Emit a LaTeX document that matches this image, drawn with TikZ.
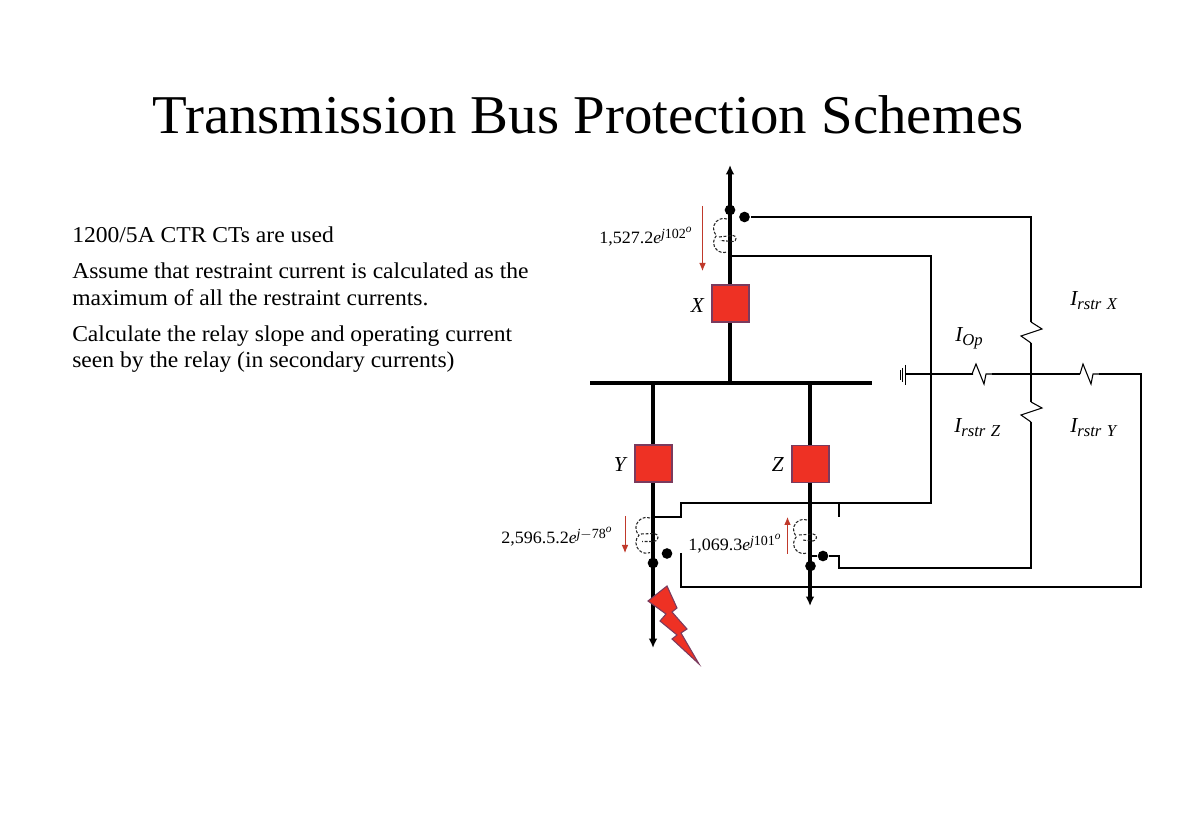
\documentclass[tikz,border=0pt]{standalone}
\usepackage{mathspec}
\setmainfont[FakeStretch=1.04]{Liberation Serif}
\setmathfont(Digits,Latin){Liberation Serif}
\DeclareMathSizes{16}{16}{12.5}{10}
\DeclareMathSizes{13}{13}{10.5}{8.5}
\usetikzlibrary{calc}
\usetikzlibrary{arrows.meta}

\definecolor{brkred}{HTML}{EE3124}
\definecolor{brkedge}{HTML}{7A3B5E}
\definecolor{ctred}{HTML}{C0392B}

\tikzset{
  wire/.style={draw=black,line width=0.8pt},
  feeder/.style={draw=black,line width=2.3pt},
  feedend/.style={feeder,-{Latex[length=7pt,width=6.5pt]}},
  brk/.style={draw=brkedge,line width=1.1pt,fill=brkred,minimum size=28pt,inner sep=0pt},
  blackdot/.style={circle,fill=black,minimum size=8pt,inner sep=0pt},
  coil/.style={draw=black!85,line width=0.8pt,dash pattern=on 2.2pt off 1.2pt},
  ctarrow/.style={draw=ctred,line width=0.7pt,-{Latex[length=6pt,width=5pt]}},
  lbl/.style={inner sep=0pt,font=\fontsize{13}{15}\selectfont},
  body/.style={anchor=base west,inner sep=0pt,font=\fontsize{17}{20}\selectfont},
  brkname/.style={inner sep=0pt,anchor=east,font=\fontsize{16}{18}\selectfont},
  relname/.style={inner sep=0pt,anchor=base west,font=\fontsize{16}{18}\selectfont},
}

\begin{document}
\begin{tikzpicture}[x=0.75pt,y=-0.75pt]
\useasboundingbox (0,0) rectangle (1179,816);

\node[anchor=base,inner sep=0pt,font=\fontsize{41}{46}\selectfont] (title) at (588,134) {Transmission Bus Protection Schemes};

\node[body] (ln1) at (72,243) {1200/5A CTR CTs are used};
\node[body] (ln2) at (72,279) {Assume that restraint current is calculated as the};
\node[body] (ln3) at (72,306) {maximum of all the restraint currents.};
\node[body] (ln4) at (72,342) {Calculate the relay slope and operating current};
\node[body] (ln5) at (72,368) {seen by the relay (in secondary currents)};

% bus and feeders
\coordinate (busl) at (590,383);
\coordinate (busr) at (872,383);
\coordinate (busx) at (730,383);
\coordinate (busy) at (653,383);
\coordinate (busz) at (810,383);
\coordinate (endx) at (730,165);
\coordinate (endy) at (653,648);
\coordinate (endz) at (810,606);
\draw[feeder] (busl)--(busr);
\draw[feedend] (busx)--(endx);
\draw[feedend] (busy)--(endy);
\draw[feedend] (busz)--(endz);

\node[brk] (brkx) at (730.5,303.5) {};
\node[brk] (brky) at (653.5,463.5) {};
\node[brk] (brkz) at (810.5,464) {};
\node[brkname] (namex) at ($(brkx.west)+(-7,2)$) {$X$};
\node[brkname] (namey) at ($(brky.west)+(-8,1)$) {$Y$};
\node[brkname] (namez) at ($(brkz.west)+(-7,1)$) {$Z$};

% polarity dots
\node[blackdot] (dotx) at (730,210) {};
\node[blackdot] (polx) at (744.5,217) {};
\node[blackdot] (doty) at (653,563) {};
\node[blackdot] (poly) at (667,553.5) {};
\node[blackdot] (dotz) at (810.5,566) {};
\node[blackdot] (polz) at (823,556) {};

% CT coils
\draw[coil] (727,219) arc (-70:-225:10) arc (-135:-290:10);
\draw[coil] (719,237)--(733,235.5) arc (-90:90:3)--(720,240.5);
\draw[coil] (650,518) arc (-70:-225:10.5) arc (-135:-290:10.5);
\draw[coil] (641,534)--(654,533.5) arc (-90:90:4)--(642,541.5);
\draw[coil] (807,520) arc (-70:-225:10) arc (-135:-290:10);
\draw[coil] (799,535)--(813,534) arc (-90:90:3.5)--(802,540);

% secondary wiring
\coordinate (xa) at (751,217);
\coordinate (xb) at (1031,217);
\coordinate (mid) at (1031,374);
\coordinate (rxt) at (1031,322);
\coordinate (rxb) at (1031,343);
\coordinate (rzt) at (1031,402);
\coordinate (rzb) at (1031,422);
\coordinate (zb) at (1031,568);
\coordinate (za) at (839,568);
\coordinate (zc) at (839,556);
\coordinate (rta) at (730,256);
\coordinate (rtb) at (931,256);
\coordinate (rtc) at (931,503);
\coordinate (rtd) at (681,503);
\coordinate (rte) at (681,517);
\coordinate (rtf) at (653,517);
\coordinate (stuba) at (839,503);
\coordinate (stubb) at (839,517);
\coordinate (ya) at (681,553);
\coordinate (yb) at (681,587);
\coordinate (yc) at (1141,587);
\coordinate (yd) at (1141,374);
\coordinate (ryr) at (1099,374);
\coordinate (ryl) at (1080,374);
\coordinate (rol) at (973,374);
\coordinate (ror) at (992,374);
\coordinate (gnd) at (905,374);

\draw[wire] (xa)--(xb)--(rxt);
\draw[wire] (rxt)--++(11,7)--++(-21,7)--(rxb);
\draw[wire] (rxb)--(mid)--(rzt);
\draw[wire] (rzt)--++(11,6)--++(-21,7)--(rzb);
\draw[wire] (rzb)--(zb)--(za)--(zc)--(polz);
\draw[wire] (polz)--(dotz |- polz);
\draw[wire] (rta)--(rtb)--(rtc)--(rtd)--(rte)--(rtf);
\draw[wire] (stuba)--(stubb);
\draw[wire] (ya)--(yb)--(yc)--(yd)--(ryr);
\draw[wire] (ryr)--++(-6,0)--++(-2,10)--++(-8,-20)--++(-3,10)--(ryl);
\draw[wire] (ryl)--(ror);
\draw[wire] (ror)--++(-6,0)--++(-2,10)--++(-8,-20)--++(-4,10)--(rol);
\draw[wire] (rol)--(gnd);

% ground
\coordinate (gnda) at (905,365);
\coordinate (gndb) at (905,385);
\coordinate (gndc) at (902.5,368);
\coordinate (gndd) at (902.5,382);
\coordinate (gnde) at (900,370);
\coordinate (gndf) at (900,380);
\draw[wire,line width=0.6pt] (gnda)--(gndb);
\draw[wire,line width=0.6pt] (gndc)--(gndd);
\draw[wire,line width=0.6pt] (gnde)--(gndf);

% measured currents
\coordinate (ax) at (702.5,206);
\coordinate (bx) at (702.5,271);
\coordinate (ay) at (625,516);
\coordinate (by) at (625,553);
\coordinate (az) at (787.5,554);
\coordinate (bz) at (787.5,517);
\draw[ctarrow] (ax)--(bx);
\draw[ctarrow] (ay)--(by);
\draw[ctarrow] (az)--(bz);

\node[lbl,anchor=base west] (curx) at (599,244) {1,527.2$e^{j102^o}$};
\node[lbl,anchor=base west] (cury) at (501,544) {2,596.5.2$e^{j-78^o}$};
\node[lbl,anchor=base west] (curz) at (688,551) {1,069.3$e^{j101^o}$};

\node[relname] (iop) at (955,342) {$I_{Op}$};
\node[relname] (irx) at (1070,306) {$I_{rstr\ X}$};
\node[relname] (irz) at (954,433) {$I_{rstr\ Z}$};
\node[relname] (iry) at (1070,433) {$I_{rstr\ Y}$};

% fault
\draw[draw=brkedge,line width=0.8pt,fill=brkred] (667,586)--(677,608)--(672,612)--(687,629)--(681,633)--(699,664)--(672,639)--(677,635)--(660,621)--(666,614)--(648,601)--cycle;

\end{tikzpicture}
\end{document}
